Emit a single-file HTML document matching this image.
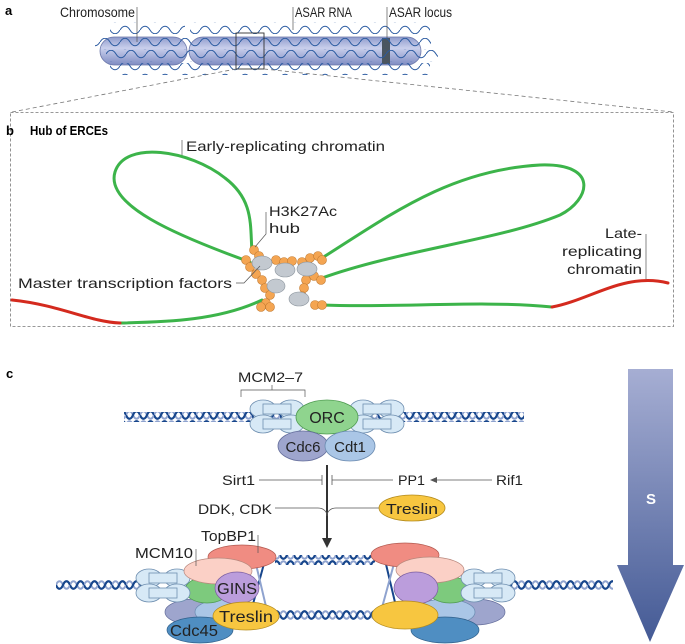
<!DOCTYPE html>
<html><head><meta charset="utf-8"><style>
html,body{margin:0;padding:0;background:#fff}
svg{display:block;font-family:"Liberation Sans",sans-serif}
</style></head><body>
<svg width="685" height="644" viewBox="0 0 685 644" xmlns="http://www.w3.org/2000/svg">
<defs>
<pattern id="wv" width="20" height="12" patternUnits="userSpaceOnUse">
<path d="M0,6 C3,1 7,1 10,6 C13,11 17,11 20,6" fill="none" stroke="#2a5aa0" stroke-width="1"/>
</pattern>
<pattern id="hx" width="14" height="10" patternUnits="userSpaceOnUse">
<path d="M0,5 C2,0 5,0 7,5 C9,10 12,10 14,5" fill="none" stroke="#8fa3cf" stroke-width="2"/>
<path d="M0,5 C2,10 5,10 7,5 C9,0 12,0 14,5" fill="none" stroke="#17468c" stroke-width="2.2"/>
</pattern>
<linearGradient id="chr" x1="0" y1="0" x2="0" y2="1">
<stop offset="0" stop-color="#8f9bcc"/><stop offset="0.4" stop-color="#c9cfec"/><stop offset="1" stop-color="#7f8cc2"/>
</linearGradient>
<linearGradient id="sg" x1="0" y1="0" x2="0" y2="1">
<stop offset="0" stop-color="#a6aed3"/><stop offset="1" stop-color="#445a95"/>
</linearGradient>
<g id="mcm">
<g fill="#d7e9f6" stroke="#6f8fb0" stroke-width="0.8">
<ellipse cx="-14" cy="-7" rx="13" ry="9"/><ellipse cx="14" cy="-7" rx="13" ry="9"/><rect x="-14" y="-12" width="28" height="10"/>
<ellipse cx="-14" cy="8" rx="13" ry="9"/><ellipse cx="14" cy="8" rx="13" ry="9"/><rect x="-14" y="3" width="28" height="10"/>
</g>
</g>
</defs>

<!-- panel a -->
<text x="5" y="15" font-weight="bold" font-size="13">a</text>
<rect x="100" y="37" width="87" height="28" rx="14" fill="url(#chr)" stroke="#6a76a8" stroke-width="0.8"/>
<rect x="189" y="37" width="232" height="28" rx="14" fill="url(#chr)" stroke="#6a76a8" stroke-width="0.8"/>
<rect x="382" y="38" width="8" height="26" fill="#4a5560"/>
<rect x="110" y="22" width="75" height="12" fill="url(#wv)"/>
<rect x="190" y="22" width="240" height="12" fill="url(#wv)"/>
<rect x="95" y="38" width="336" height="12" fill="url(#wv)"/>
<rect x="100" y="50" width="332" height="12" fill="url(#wv)" transform="translate(6,0)"/>
<rect x="110" y="63" width="320" height="12" fill="url(#wv)"/>
<rect x="236" y="33" width="28" height="36" fill="none" stroke="#333" stroke-width="0.9"/>
<text x="60" y="17" font-size="14" fill="#222" textLength="75" lengthAdjust="spacingAndGlyphs">Chromosome</text>
<line x1="137" y1="7" x2="137" y2="42" stroke="#555" stroke-width="0.7"/>
<text x="295" y="17" font-size="14" fill="#222" textLength="57" lengthAdjust="spacingAndGlyphs">ASAR RNA</text>
<line x1="293" y1="7" x2="293" y2="30" stroke="#555" stroke-width="0.7"/>
<text x="389" y="17" font-size="14" fill="#222" textLength="63" lengthAdjust="spacingAndGlyphs">ASAR locus</text>
<line x1="387" y1="7" x2="387" y2="38" stroke="#555" stroke-width="0.7"/>
<line x1="236" y1="69" x2="12" y2="112" stroke="#777" stroke-dasharray="4,3" stroke-width="0.8"/>
<line x1="264" y1="69" x2="673" y2="112" stroke="#777" stroke-dasharray="4,3" stroke-width="0.8"/>

<!-- panel b -->
<rect x="10.5" y="112.5" width="663" height="214" fill="none" stroke="#777" stroke-dasharray="3,2" stroke-width="0.8"/>
<text x="6" y="135" font-weight="bold" font-size="13">b</text>
<text x="30" y="135" font-weight="bold" font-size="12.5" textLength="78" lengthAdjust="spacingAndGlyphs">Hub of ERCEs</text>
<text x="186" y="151" font-size="14" fill="#222" textLength="199" lengthAdjust="spacingAndGlyphs">Early-replicating chromatin</text>
<line x1="182" y1="140" x2="182" y2="158" stroke="#555" stroke-width="0.7"/>
<g fill="none" stroke="#3cb44a" stroke-width="3" stroke-linecap="round">
<path d="M252,252 C250,225 254,200 225,178 C190,150 125,140 115,172 C105,205 175,235 250,262"/>
<path d="M322,258 C390,215 450,170 540,165 C600,163 590,200 560,215 C500,240 400,250 322,278"/>
<path d="M262,300 C220,320 170,322 120,323"/>
<path d="M322,305 C400,308 480,300 552,307"/>
</g>
<g fill="none" stroke="#d42a1e" stroke-width="3" stroke-linecap="round">
<path d="M12,300 C60,305 90,322 120,323"/>
<path d="M552,307 C590,300 625,272 668,283"/>
</g>
<g fill="#f4a552" stroke="#c27a30" stroke-width="0.6">
<circle cx="254" cy="250" r="4.5"/><circle cx="259" cy="256" r="4.5"/><circle cx="246" cy="260" r="4.5"/><circle cx="250" cy="267" r="4.5"/>
<circle cx="256" cy="274" r="4.5"/><circle cx="262" cy="280" r="4.5"/><circle cx="265" cy="288" r="4.5"/><circle cx="270" cy="295" r="4.5"/>
<circle cx="266" cy="303" r="4.5"/><circle cx="261" cy="307" r="4.5"/><circle cx="270" cy="307" r="4.5"/>
<circle cx="276" cy="260" r="4.5"/><circle cx="284" cy="262" r="4.5"/><circle cx="292" cy="261" r="4.5"/>
<circle cx="302" cy="262" r="4.5"/><circle cx="310" cy="258" r="4.5"/><circle cx="318" cy="256" r="4.5"/><circle cx="322" cy="260" r="4.5"/>
<circle cx="306" cy="280" r="4.5"/><circle cx="314" cy="276" r="4.5"/><circle cx="321" cy="280" r="4.5"/><circle cx="304" cy="288" r="4.5"/>
<circle cx="302" cy="296" r="4.5"/><circle cx="315" cy="305" r="4.5"/><circle cx="322" cy="305" r="4.5"/>
</g>
<g fill="#c3c9d0" stroke="#8a939c" stroke-width="0.6">
<ellipse cx="262" cy="263" rx="10" ry="7"/><ellipse cx="285" cy="270" rx="10" ry="7"/><ellipse cx="307" cy="269" rx="10" ry="7"/>
<ellipse cx="276" cy="286" rx="9" ry="7"/><ellipse cx="299" cy="299" rx="10" ry="7"/>
</g>
<text x="269" y="216" font-size="14" fill="#222" textLength="68" lengthAdjust="spacingAndGlyphs">H3K27Ac</text>
<text x="269" y="233" font-size="14" fill="#222" textLength="31" lengthAdjust="spacingAndGlyphs">hub</text>
<polyline points="266,212 266,234 255,247" fill="none" stroke="#555" stroke-width="0.7"/>
<text x="18" y="288" font-size="14" fill="#222" textLength="214" lengthAdjust="spacingAndGlyphs">Master transcription factors</text>
<polyline points="236,283 244,283 260,266" fill="none" stroke="#555" stroke-width="0.7"/>
<g font-size="14" fill="#222" text-anchor="end">
<text x="642" y="238" textLength="37" lengthAdjust="spacingAndGlyphs">Late-</text>
<text x="642" y="256" textLength="80" lengthAdjust="spacingAndGlyphs">replicating</text>
<text x="642" y="274" textLength="75" lengthAdjust="spacingAndGlyphs">chromatin</text>
</g>
<line x1="646" y1="234" x2="646" y2="279" stroke="#555" stroke-width="0.7"/>

<!-- panel c -->
<text x="6" y="378" font-weight="bold" font-size="13">c</text>
<text x="238" y="382" font-size="14" fill="#222" textLength="65" lengthAdjust="spacingAndGlyphs">MCM2–7</text>
<polyline points="241,397 241,390 305,390 305,397" fill="none" stroke="#555" stroke-width="0.7"/>
<line x1="272" y1="385" x2="272" y2="390" stroke="#555" stroke-width="0.7"/>
<rect x="124" y="412" width="400" height="10" fill="url(#hx)"/>
<use href="#mcm" x="277" y="416"/>
<use href="#mcm" x="377" y="416"/>
<ellipse cx="327" cy="417" rx="31" ry="17" fill="#8fd48e" stroke="#4e9a50" stroke-width="0.8"/>
<text x="327" y="423" font-size="16" text-anchor="middle" fill="#222">ORC</text>
<ellipse cx="303" cy="446" rx="25" ry="15" fill="#9ea5cd" stroke="#636c9a" stroke-width="0.8"/>
<ellipse cx="350" cy="446" rx="25" ry="15" fill="#aac6e6" stroke="#6a8ab0" stroke-width="0.8"/>
<text x="303" y="452" font-size="15" text-anchor="middle" fill="#222">Cdc6</text>
<text x="350" y="452" font-size="15" text-anchor="middle" fill="#222">Cdt1</text>

<line x1="327" y1="465" x2="327" y2="540" stroke="#333" stroke-width="2"/>
<path d="M322,538 L332,538 L327,548 Z" fill="#333"/>
<text x="222" y="485" font-size="14" fill="#222" textLength="33" lengthAdjust="spacingAndGlyphs">Sirt1</text>
<line x1="259" y1="480" x2="322" y2="480" stroke="#555" stroke-width="0.8"/>
<line x1="322" y1="475" x2="322" y2="485" stroke="#555" stroke-width="0.8"/>
<line x1="332" y1="480" x2="393" y2="480" stroke="#555" stroke-width="0.8"/>
<line x1="332" y1="475" x2="332" y2="485" stroke="#555" stroke-width="0.8"/>
<text x="398" y="485" font-size="14" fill="#222" textLength="27" lengthAdjust="spacingAndGlyphs">PP1</text>
<line x1="435" y1="480" x2="492" y2="480" stroke="#555" stroke-width="0.8"/>
<path d="M430,480 L437,477 L437,483 Z" fill="#555"/>
<text x="496" y="485" font-size="14" fill="#222" textLength="27" lengthAdjust="spacingAndGlyphs">Rif1</text>
<text x="198" y="514" font-size="14" fill="#222" textLength="74" lengthAdjust="spacingAndGlyphs">DDK, CDK</text>
<path d="M275,508 L318,508 C324,508 327,512 327,516 C327,512 330,508 336,508 L379,508" fill="none" stroke="#555" stroke-width="0.8"/>
<ellipse cx="412" cy="508" rx="33" ry="13" fill="#f7c640" stroke="#b38a1a" stroke-width="0.8"/>
<text x="412" y="514" font-size="15" text-anchor="middle" fill="#222" textLength="52" lengthAdjust="spacingAndGlyphs">Treslin</text>

<!-- bottom -->
<rect x="56" y="580" width="90" height="10" fill="url(#hx)"/>
<rect x="505" y="580" width="108" height="10" fill="url(#hx)"/>
<rect x="275" y="555" width="100" height="10" fill="url(#hx)"/>
<rect x="275" y="610" width="100" height="10" fill="url(#hx)"/>
<path d="M265,560 L250,615 M385,560 L398,615" stroke="#17468c" stroke-width="2" fill="none"/>
<path d="M255,560 L268,615 M395,560 L380,615" stroke="#8fa3cf" stroke-width="2" fill="none"/>
<!-- left complex -->
<ellipse cx="195" cy="612" rx="30" ry="13" fill="#9ea5cd" stroke="#636c9a" stroke-width="0.7"/>
<ellipse cx="225" cy="612" rx="30" ry="13" fill="#aac6e6" stroke="#6a8ab0" stroke-width="0.7"/>
<ellipse cx="207" cy="590" rx="22" ry="13" fill="#7dca7d" stroke="#4e9a50" stroke-width="0.7"/>
<use href="#mcm" x="163" y="585"/>
<ellipse cx="242" cy="557" rx="34" ry="12" fill="#f08c82" stroke="#b35a50" stroke-width="0.7"/>
<ellipse cx="218" cy="571" rx="34" ry="13" fill="#fbd0c6" stroke="#b8877c" stroke-width="0.7"/>
<ellipse cx="237" cy="588" rx="22" ry="16" fill="#bb9ddc" stroke="#7b5ea0" stroke-width="0.7"/>
<text x="237" y="594" font-size="16" text-anchor="middle" fill="#222" textLength="40" lengthAdjust="spacingAndGlyphs">GINS</text>
<ellipse cx="200" cy="630" rx="33" ry="13" fill="#4f8ec2" stroke="#2f5f8a" stroke-width="0.7"/>
<text x="194" y="636" font-size="16" text-anchor="middle" fill="#222" textLength="48" lengthAdjust="spacingAndGlyphs">Cdc45</text>
<ellipse cx="246" cy="616" rx="33" ry="14" fill="#f7c640" stroke="#b38a1a" stroke-width="0.7"/>
<text x="246" y="622" font-size="16" text-anchor="middle" fill="#222" textLength="54" lengthAdjust="spacingAndGlyphs">Treslin</text>
<text x="201" y="541" font-size="15" fill="#222" textLength="55" lengthAdjust="spacingAndGlyphs">TopBP1</text>
<line x1="258" y1="535" x2="258" y2="553" stroke="#555" stroke-width="0.7"/>
<text x="135" y="558" font-size="15" fill="#222" textLength="58" lengthAdjust="spacingAndGlyphs">MCM10</text>
<line x1="196" y1="549" x2="196" y2="566" stroke="#555" stroke-width="0.7"/>
<!-- right complex -->
<ellipse cx="475" cy="612" rx="30" ry="13" fill="#9ea5cd" stroke="#636c9a" stroke-width="0.7"/>
<ellipse cx="445" cy="612" rx="30" ry="13" fill="#aac6e6" stroke="#6a8ab0" stroke-width="0.7"/>
<ellipse cx="450" cy="590" rx="22" ry="13" fill="#7dca7d" stroke="#4e9a50" stroke-width="0.7"/>
<use href="#mcm" x="488" y="585"/>
<ellipse cx="405" cy="555" rx="34" ry="12" fill="#f08c82" stroke="#b35a50" stroke-width="0.7"/>
<ellipse cx="430" cy="570" rx="34" ry="13" fill="#fbd0c6" stroke="#b8877c" stroke-width="0.7"/>
<ellipse cx="416" cy="588" rx="22" ry="16" fill="#bb9ddc" stroke="#7b5ea0" stroke-width="0.7"/>
<ellipse cx="445" cy="630" rx="34" ry="13" fill="#4f8ec2" stroke="#2f5f8a" stroke-width="0.7"/>
<ellipse cx="405" cy="615" rx="33" ry="14" fill="#f7c640" stroke="#b38a1a" stroke-width="0.7"/>

<!-- S arrow -->
<path d="M628,369 L673,369 L673,565 L684,565 L650,642 L617,565 L628,565 Z" fill="url(#sg)"/>
<text x="651" y="504" font-size="15" font-weight="bold" fill="#fff" text-anchor="middle">S</text>
</svg>
</body></html>
